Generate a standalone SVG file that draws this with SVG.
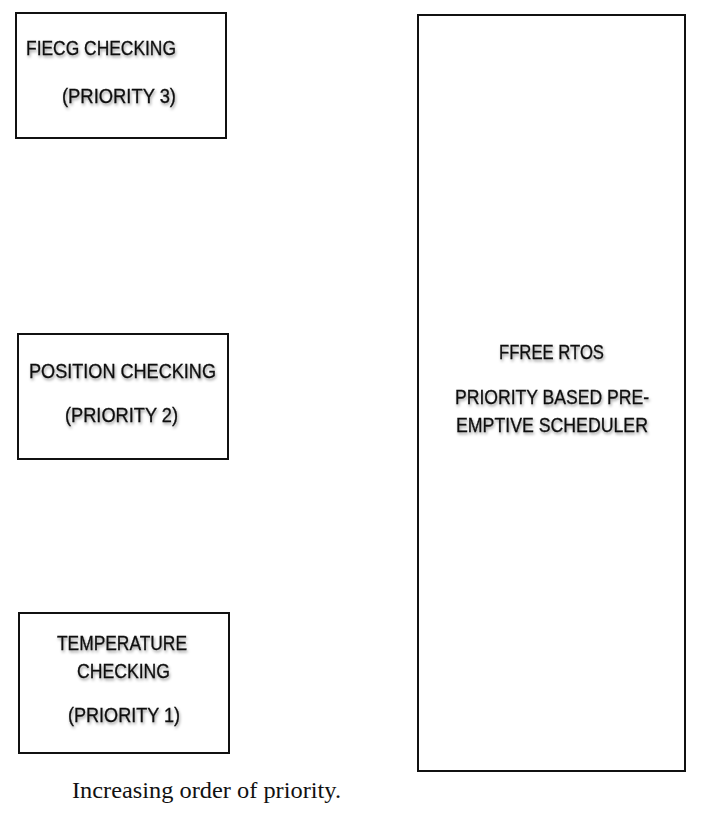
<svg xmlns="http://www.w3.org/2000/svg" width="703" height="821" viewBox="0 0 703 821">
<defs>
<filter id="sh" x="-10%" y="-30%" width="120%" height="170%">
<feDropShadow dx="1" dy="2" stdDeviation="1.5" flood-color="#000" flood-opacity="0.4"/>
</filter>
</defs>
<style>
.box{fill:#fff;stroke:#111;stroke-width:2}
.t{font-family:"Liberation Sans",Arial,sans-serif;font-size:20.5px;fill:#111;stroke:#111;stroke-width:0.3;filter:url(#sh)}
.cap{font-family:"Liberation Serif","Times New Roman",serif;font-size:24px;fill:#111}
</style>
<rect width="703" height="821" fill="#fff"/>
<g id="node-fiecg">
<rect class="box" x="16" y="13" width="210" height="125"/>
<text class="t" x="26" y="55" textLength="150" lengthAdjust="spacingAndGlyphs">FIECG CHECKING</text>
<text class="t" x="62" y="103" textLength="114" lengthAdjust="spacingAndGlyphs">(PRIORITY 3)</text>
</g>
<g id="node-position">
<rect class="box" x="18" y="334" width="210" height="125"/>
<text class="t" x="29" y="378" textLength="187" lengthAdjust="spacingAndGlyphs">POSITION CHECKING</text>
<text class="t" x="65" y="422" textLength="113" lengthAdjust="spacingAndGlyphs">(PRIORITY 2)</text>
</g>
<g id="node-temperature">
<rect class="box" x="19" y="613" width="210" height="140"/>
<text class="t" x="57" y="650" textLength="130" lengthAdjust="spacingAndGlyphs">TEMPERATURE</text>
<text class="t" x="77" y="678" textLength="93" lengthAdjust="spacingAndGlyphs">CHECKING</text>
<text class="t" x="68" y="722" textLength="112" lengthAdjust="spacingAndGlyphs">(PRIORITY 1)</text>
</g>
<g id="node-rtos">
<rect class="box" x="418" y="15" width="267" height="756"/>
<text class="t" x="499" y="359" textLength="105" lengthAdjust="spacingAndGlyphs">FFREE RTOS</text>
<text class="t" x="455" y="404" textLength="194" lengthAdjust="spacingAndGlyphs">PRIORITY BASED PRE-</text>
<text class="t" x="456" y="432" textLength="192" lengthAdjust="spacingAndGlyphs">EMPTIVE SCHEDULER</text>
</g>
<g id="connectors"></g>
<text class="cap" x="72" y="798" textLength="269" lengthAdjust="spacingAndGlyphs">Increasing order of priority.</text>
</svg>
